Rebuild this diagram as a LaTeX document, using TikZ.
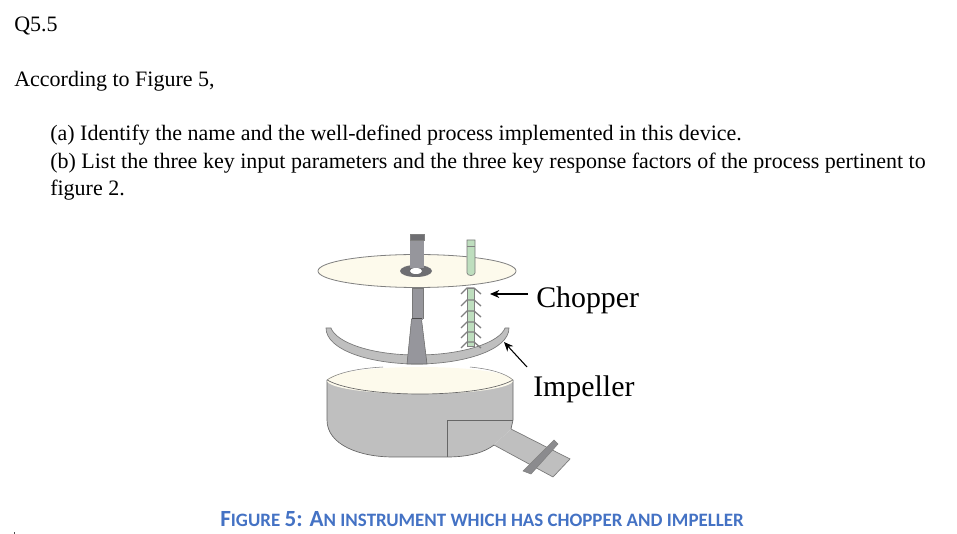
\documentclass[tikz,border=0pt]{standalone}
\usepackage{fontspec}
\setmainfont{Liberation Serif}
\newfontfamily\capfont{Carlito}
\definecolor{cream}{RGB}{253,250,236}
\definecolor{bodygray}{RGB}{191,191,191}
\definecolor{shaftgray}{RGB}{150,150,156}
\definecolor{darkgray2}{RGB}{110,110,114}
\definecolor{rodgreen}{RGB}{190,222,190}
\definecolor{capblue}{RGB}{68,114,196}
\definecolor{edgegray}{RGB}{120,120,120}
\usetikzlibrary{arrows.meta}
\tikzset{
  bodytext/.style={anchor=base west,inner sep=0pt,font=\fontsize{16.5pt}{19pt}\selectfont,text=black},
  labeltext/.style={anchor=base west,inner sep=0pt,font=\fontsize{22.4pt}{26pt}\selectfont,text=black},
  captext/.style={anchor=base,inner sep=0pt,text=capblue},
  part/.style={draw=edgegray,line width=0.5pt},
  outline/.style={draw=black!60,line width=0.5pt},
  pointer/.style={-{Stealth[length=7pt,width=6pt]},line width=0.8pt,black},
  blade/.style={draw=black!50,line width=1pt,line join=round},
}
\begin{document}
\begin{tikzpicture}[x=0.75pt,y=-0.75pt]
\useasboundingbox (0,0) rectangle (957,534);
% text
\node[bodytext] (q) at (14,32) {Q5.5};
\node[bodytext] (acc) at (14,86.5) {According to Figure 5,};
\node[bodytext] (a) at (50,140.5) {(a) Identify the name and the well-defined process implemented in this device.};
\node[bodytext] (b) at (50,168.5) {(b) List the three key input parameters and the three key response factors of the process pertinent to};
\node[bodytext] (b2) at (50,195.5) {figure 2.};
% bowl
\fill[bodygray] (327,380) -- (327,420) .. controls (327,445) and (360,457) .. (393,457) -- (447,457)
  .. controls (470,457) and (485,452) .. (494,445) -- (511,429) -- (513,420) -- (513,380) -- cycle;
\draw[outline] (327,380) -- (327,420) .. controls (327,445) and (360,457) .. (393,457) -- (447,457)
  .. controls (470,457) and (485,452) .. (494,445);
\draw[outline] (513,380) -- (513,420) -- (511,429);
\draw[outline] (447,457) -- (447,420) -- (513,420);
\fill[cream] (420,380.5) ellipse [x radius=93,y radius=13.5];
\draw[outline] (327,380) .. controls (345,390) and (385,394) .. (420,394) .. controls (455,394) and (495,390) .. (513,380);
\draw[gray,line width=0.4pt] (327,380) .. controls (340,371) and (365,368) .. (383,367);
\draw[gray,line width=0.4pt] (470,367) .. controls (490,369) and (505,373) .. (513,380);
% outlet
\fill[bodygray] (511,429) -- (570,459) -- (553,477) -- (494,445) -- cycle;
\draw[part] (511,429) -- (570,459) -- (553,477) -- (494,445);
\draw[draw=gray,fill=darkgray2!80] (554,440) -- (558,444) -- (531,474) -- (523,471) -- cycle;
% impeller
\draw[part,fill=bodygray] (326,328) .. controls (326,350) and (370,364) .. (417,364)
  .. controls (464,364) and (509,350) .. (509,328) -- (505,328)
  .. controls (500,342) and (464,355) .. (417,355) .. controls (370,355) and (336,342) .. (331,328) -- cycle;
% cone and lower shaft
\draw[part,fill=shaftgray] (412,288) rectangle (423,318);
\draw[black!60,fill=shaftgray] (411.5,319) -- (421.5,319) -- (427,364) -- (407,364) -- cycle;
\fill[shaftgray] (412,318) rectangle (423,320);
\draw[black!70,line width=0.8pt] (412,318.5) -- (422,318.5);
% disc
\draw[draw=gray,fill=cream,line width=0.6pt] (417,271) ellipse [x radius=99,y radius=16.5];
% washer, upper shaft
\fill[darkgray2] (416,271) ellipse [x radius=16,y radius=6];
\fill[white] (416,271) ellipse [x radius=6,y radius=3];
\fill[shaftgray] (410,234) rectangle (424,268) ;
\fill[darkgray2] (410,234) rectangle (424,240);
\draw[gray,line width=0.4pt] (410,234) rectangle (424,240);
\fill[white] (411,269.5) -- (421,269.5) -- (421,272) -- (411,272) -- cycle;
% rod
\draw[part,fill=rodgreen] (467,240) -- (475,240) -- (475,273) arc[start angle=0,end angle=180,x radius=4,y radius=2.5] -- cycle;
\draw[gray,line width=0.4pt] (467,246) -- (475,246);
\draw[draw=gray,fill=rodgreen,line width=0.4pt] (467,288) rectangle (474,346);
% blades
\foreach \yy in {288,300,311,322,332,342}{
  \draw[blade] (461,\yy+6) -- (467,\yy) -- (474,\yy) -- (481,\yy+6);
}
% labels
\node[labeltext] (chop) at (536,308) {Chopper};
\node[labeltext] (imp) at (533,397) {Impeller};
\coordinate (choptip) at (490,294);
\coordinate (chopstart) at (528,294);
\coordinate (imptip) at (504,342);
\coordinate (impstart) at (527,367);
\draw[pointer] (chopstart) -- (choptip);
\draw[pointer] (impstart) -- (imptip);
% caption
\node[captext] (cap) at (482,526) {\capfont\bfseries\fontsize{17.35pt}{20pt}\selectfont F\fontsize{14.2pt}{17pt}\selectfont IGURE \fontsize{17.35pt}{20pt}\selectfont 5: A\fontsize{14.2pt}{17pt}\selectfont N INSTRUMENT WHICH HAS CHOPPER AND IMPELLER};
% tick
\fill[black!70] (14,531.5) rectangle (15,534);
\end{tikzpicture}
\end{document}
